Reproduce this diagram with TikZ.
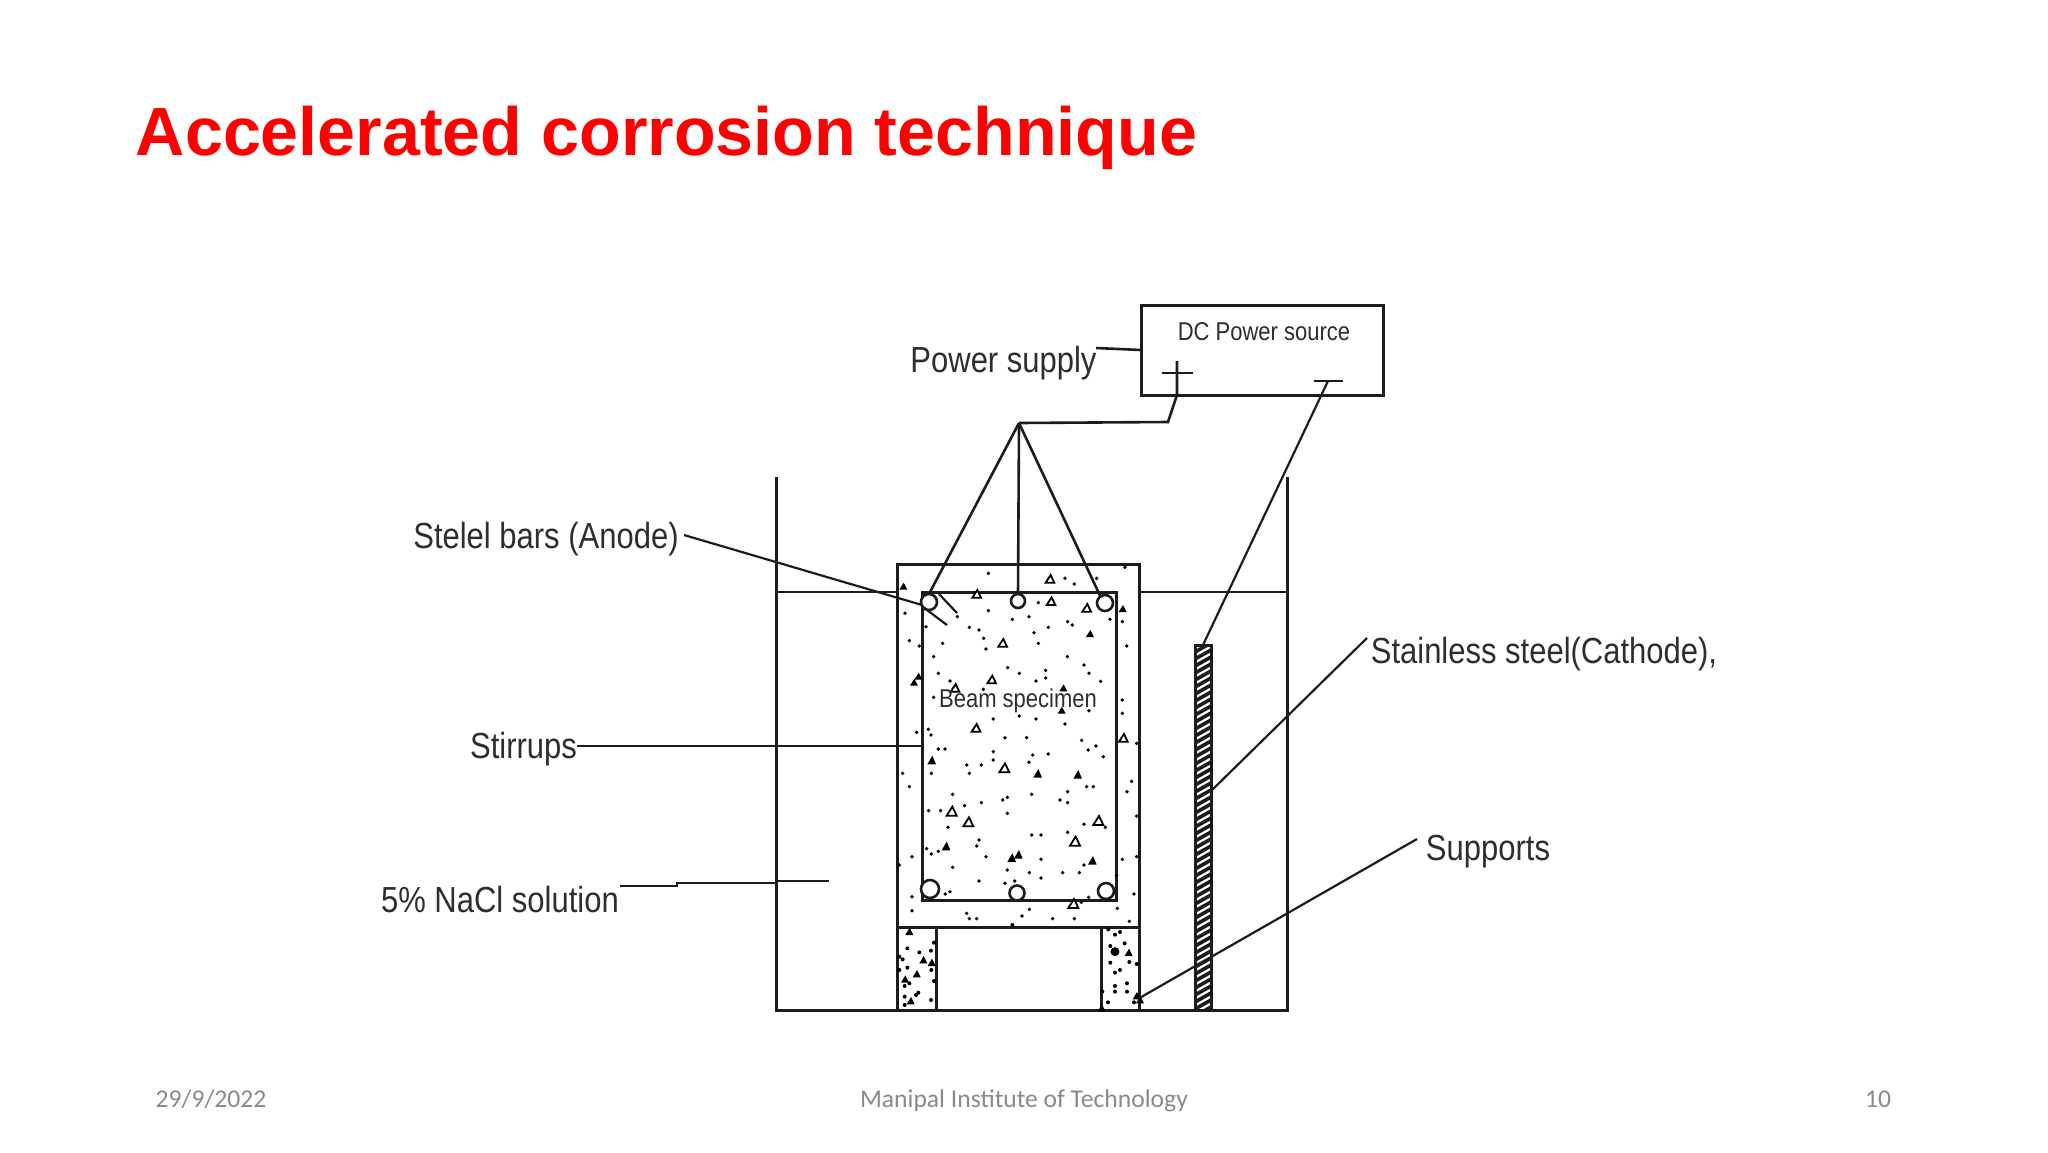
\documentclass[tikz,border=0pt]{standalone}
\usepackage{fontspec}
\usepackage{graphicx}
\setmainfont{Liberation Sans}
\newfontfamily\footfont{Carlito}
\definecolor{inkline}{HTML}{1C1C1C}
\definecolor{inktext}{HTML}{2E2E2E}
\definecolor{titlered}{HTML}{FF0000}
\definecolor{footgray}{HTML}{898989}
\newcommand{\tall}[1]{\scalebox{1}[1.17]{#1}}
\tikzset{
  tag/.style={anchor=base, inner sep=0, text=inktext, font=\fontsize{31}{31}\selectfont},
  smalltag/.style={tag, font=\fontsize{22}{22}\selectfont},
  foot/.style={anchor=base, inner sep=0, text=footgray, font=\footfont\fontsize{25.6}{25.6}\selectfont},
  box/.style={draw=inkline, rectangle, line width=3pt, inner sep=0, outer sep=0},
  rebar/.style={draw=inkline, fill=white, circle, line width=2.6pt, inner sep=0, outer sep=0},
  wire/.style={draw=inkline, line width=2.6pt},
  leader/.style={draw=inkline, line width=2.2pt},
  grit/.style={fill=black},
  gritopen/.style={draw=black, line width=1.8pt, fill=white}
}
\begin{document}
\begin{tikzpicture}[x=1pt,y=-1pt]
  \useasboundingbox (0,0) rectangle (2048,1152);

  \node (title) [anchor=base, inner sep=0, text=titlered, font=\fontsize{68.2}{68.2}\selectfont\bfseries] at (666.5,155.5) {Accelerated corrosion technique};

  % tank and water level
  \draw[wire, line width=3pt] (776,477) -- (776,1010) -- (1287,1010) -- (1287,477);
  \draw[wire] (776,592) -- (898,592);
  \draw[wire] (1139,592) -- (1287,592);

  % beam, stirrup and supports
  \node (beam) [box, minimum width=242pt, minimum height=363pt] at (1018.5,745.5) {};
  \node (stirrup) [box, minimum width=194pt, minimum height=308pt] at (1019,746) {};
  \node (suppL) [box, minimum width=38.5pt, minimum height=83pt] at (917,968.5) {};
  \node (suppR) [box, minimum width=38pt, minimum height=83pt] at (1120.5,968.5) {};

  % concrete
  \begin{scope}[shift={(890,560)},x=0.3333pt,y=-0.3333pt]
    \foreach \px/\py in {295/40,525/55,553/72,705/22,620/55,45/160,295/152,417/170,367/178,202/170,108/200,238/202,267/210,475/202,432/218,533/185,547/195,660/178,697/185,58/242,88/258,158/250,281/235,288/267,445/250,710/258,131/290,532/290,582/315,353/323,388/340,467/331,467/354,438/363,597/340,632/364,145/340,180/363,131/412,697/420,697/460,597/452,388/468,310/477,438/477,525/492,80/517,115/508,123/525,345/533,410/533,575/541,445/128,280/388}
      \fill (\px,\py) circle (1.9pt);
    \foreach \px/\py in {698/147,40/80,85/350,72/368,600/222,515/452,520/385}
      \path[grit] (\px,\py) +(-12,9) -- +(1,-12) -- +(12,9) -- cycle;
    \foreach \px/\py in {480/58,260/103,483/125,590/145,338/250,305/360,195/385,258/505,700/535}
      \path[gritopen] (\px,\py) +(-13,10) -- +(2,-13) -- +(13,10) -- cycle;
  \end{scope}
  \begin{scope}[shift={(890,740)},x=0.3333pt,y=-0.3333pt]
    \foreach \px/\py in {145/27,165/27,310/35,310/60,475/42,417/67,618/18,640/50,230/75,274/75,238/100,124/100,38/100,58/140,590/140,610/140,725/124,711/155,533/155,510/180,533/188,425/163,188/163,274/188,338/180,352/172,224/197,116/212,152/212,352/220,174/262,582/253,646/262,533/277,425/285,453/285,267/300,260/318,110/326,124/342,145/334,66/350,288/350,453/358,697/358,740/350,28/375,188/382,582/375,352/390,418/398,518/398,568/398,453/414,680/406,267/423,345/430,374/423,180/455,166/462,66/470,732/462,596/472,66/512,682/505,574/487,230/520,238/536,260/536,396/528,488/536,553/536,718/544,740/228,740/10,418/508,428/45,595/30}
      \fill (\px,\py) circle (1.9pt);
    \foreach \px/\py in {125/62,443/102,563/105,168/320,365/355,385/345,607/363}
      \path[grit] (\px,\py) +(-13,11) -- +(2,-15) -- +(13,11) -- cycle;
    \foreach \px/\py in {343/85,185/215,235/247,625/243,555/305,550/492}
      \path[gritopen] (\px,\py) +(-15,12) -- +(2,-15) -- +(15,12) -- cycle;
  \end{scope}
  \begin{scope}[shift={(890,920)},x=0.3333pt,y=-0.3333pt]
    \foreach \px/\py in {52/85,88/97,123/92,132/68,38/118,28/110,124/150,28/150,52/143,132/183,44/198,58/190,44/230,44/255,123/240,85/218,78/225,655/28,675/44,690/36,704/70,661/78,718/126,740/132,690/150,675/158,661/128,675/198,711/190,675/215,711/215,654/247,732/247,637/215,367/15}
      \fill (\px,\py) circle (2pt);
    \foreach \px/\py in {58/35,100/120,125/128,80/162,45/178,62/243,716/98,740/228,750/240,635/265}
      \path[grit] (\px,\py) +(-12,10) -- +(1,-12) -- +(12,10) -- cycle;
    \fill[black] (675,95) circle (4.5pt);
  \end{scope}

  % bars
  \node (barTL) [rebar, minimum size=16pt] at (929,602) {};
  \node (barTM) [rebar, minimum size=14pt] at (1018,601) {};
  \node (barTR) [rebar, minimum size=16pt] at (1105,603) {};
  \node (barBL) [rebar, minimum size=18pt] at (930,889) {};
  \node (barBM) [rebar, minimum size=15pt] at (1017,893) {};
  \node (barBR) [rebar, minimum size=16pt] at (1106,891) {};

  % cathode plate
  \begin{scope}
    \clip (1195,645) rectangle (1211,1010);
    \fill[white] (1195,645) rectangle (1211,1010);
    \foreach \py in {645,652,...,1022}
      \draw[inkline, line width=3.6pt] (1195,\py) -- (1211,\py-9);
  \end{scope}
  \node (cathode) [box, minimum width=16pt, minimum height=365pt] at (1203,827.5) {};

  % power source
  \node (source) [box, minimum width=242pt, minimum height=90pt] at (1262,350) {};
  \node (sourcetag) [smalltag] at (1264,340) {\tall{DC Power source}};
  \coordinate (plus) at (1177,373);
  \coordinate (plustop) at (1177,361);
  \coordinate (plusin) at (1177,395);
  \coordinate (elbow) at (1168,422);
  \coordinate (apex) at (1019,423);
  \coordinate (minus) at (1328,381);
  \draw[wire] ([xshift=-15pt]plus) -- ([xshift=16pt]plus);
  \draw[wire] (plustop) -- (plusin) -- (elbow) -- (apex);
  \draw[wire] ([xshift=-14pt]minus) -- ([xshift=15pt]minus);
  \draw[leader] (minus) -- (cathode.north);

  % wires to the bars
  \draw[wire] (apex) -- (barTL.north);
  \draw[wire] (apex) -- (barTM.north);
  \draw[wire] (apex) -- (barTR.125);
  \draw[leader] (939,594) -- (957,613);
  \draw[leader] (923,607) -- (947,625);

  % labels and leaders
  \node (psutag) [tag] at (1003.5,372) {\tall{Power supply}};
  \node (anodetag) [tag] at (546,548) {\tall{Stelel bars (Anode)}};
  \node (stirrtag) [tag] at (523.5,758) {\tall{Stirrups}};
  \node (nacltag) [tag] at (500,912) {\tall{5\% NaCl solution}};
  \node (cathtag) [tag] at (1544,663) {\tall{Stainless steel(Cathode),}};
  \node (supptag) [tag] at (1488,860) {\tall{Supports}};
  \node (beamtag) [smalltag] at (1018,707) {\tall{Beam specimen}};

  \coordinate (psuend) at (1096,348);
  \coordinate (anodeend) at (684,535);
  \coordinate (anodehit) at (922,605);
  \coordinate (stirrend) at (577,746);
  \coordinate (naclend) at (620,886);
  \coordinate (naclmid) at (677,883);
  \coordinate (nacltank) at (776,881);
  \coordinate (naclhit) at (829,881);
  \coordinate (cathend) at (1367,638);
  \coordinate (cathhit) at (1212,790);
  \coordinate (suppend) at (1417,839);
  \coordinate (supphit) at (1139.5,998);

  \draw[wire] (psuend) -- (source.west);
  \draw[leader] (anodeend) -- (anodehit);
  \draw[wire] (stirrend) -- (stirrup.west);
  \draw[wire] (naclend) -| (naclmid) -| (nacltank) -- (naclhit);
  \draw[leader] (cathend) -- (cathhit);
  \draw[leader] (suppend) -- (supphit);

  % footer
  \node (date) [foot] at (211,1107) {29/9/2022};
  \node (inst) [foot] at (1024,1107) {Manipal Institute of Technology};
  \node (page) [foot] at (1878,1107) {10};
\end{tikzpicture}
\end{document}
